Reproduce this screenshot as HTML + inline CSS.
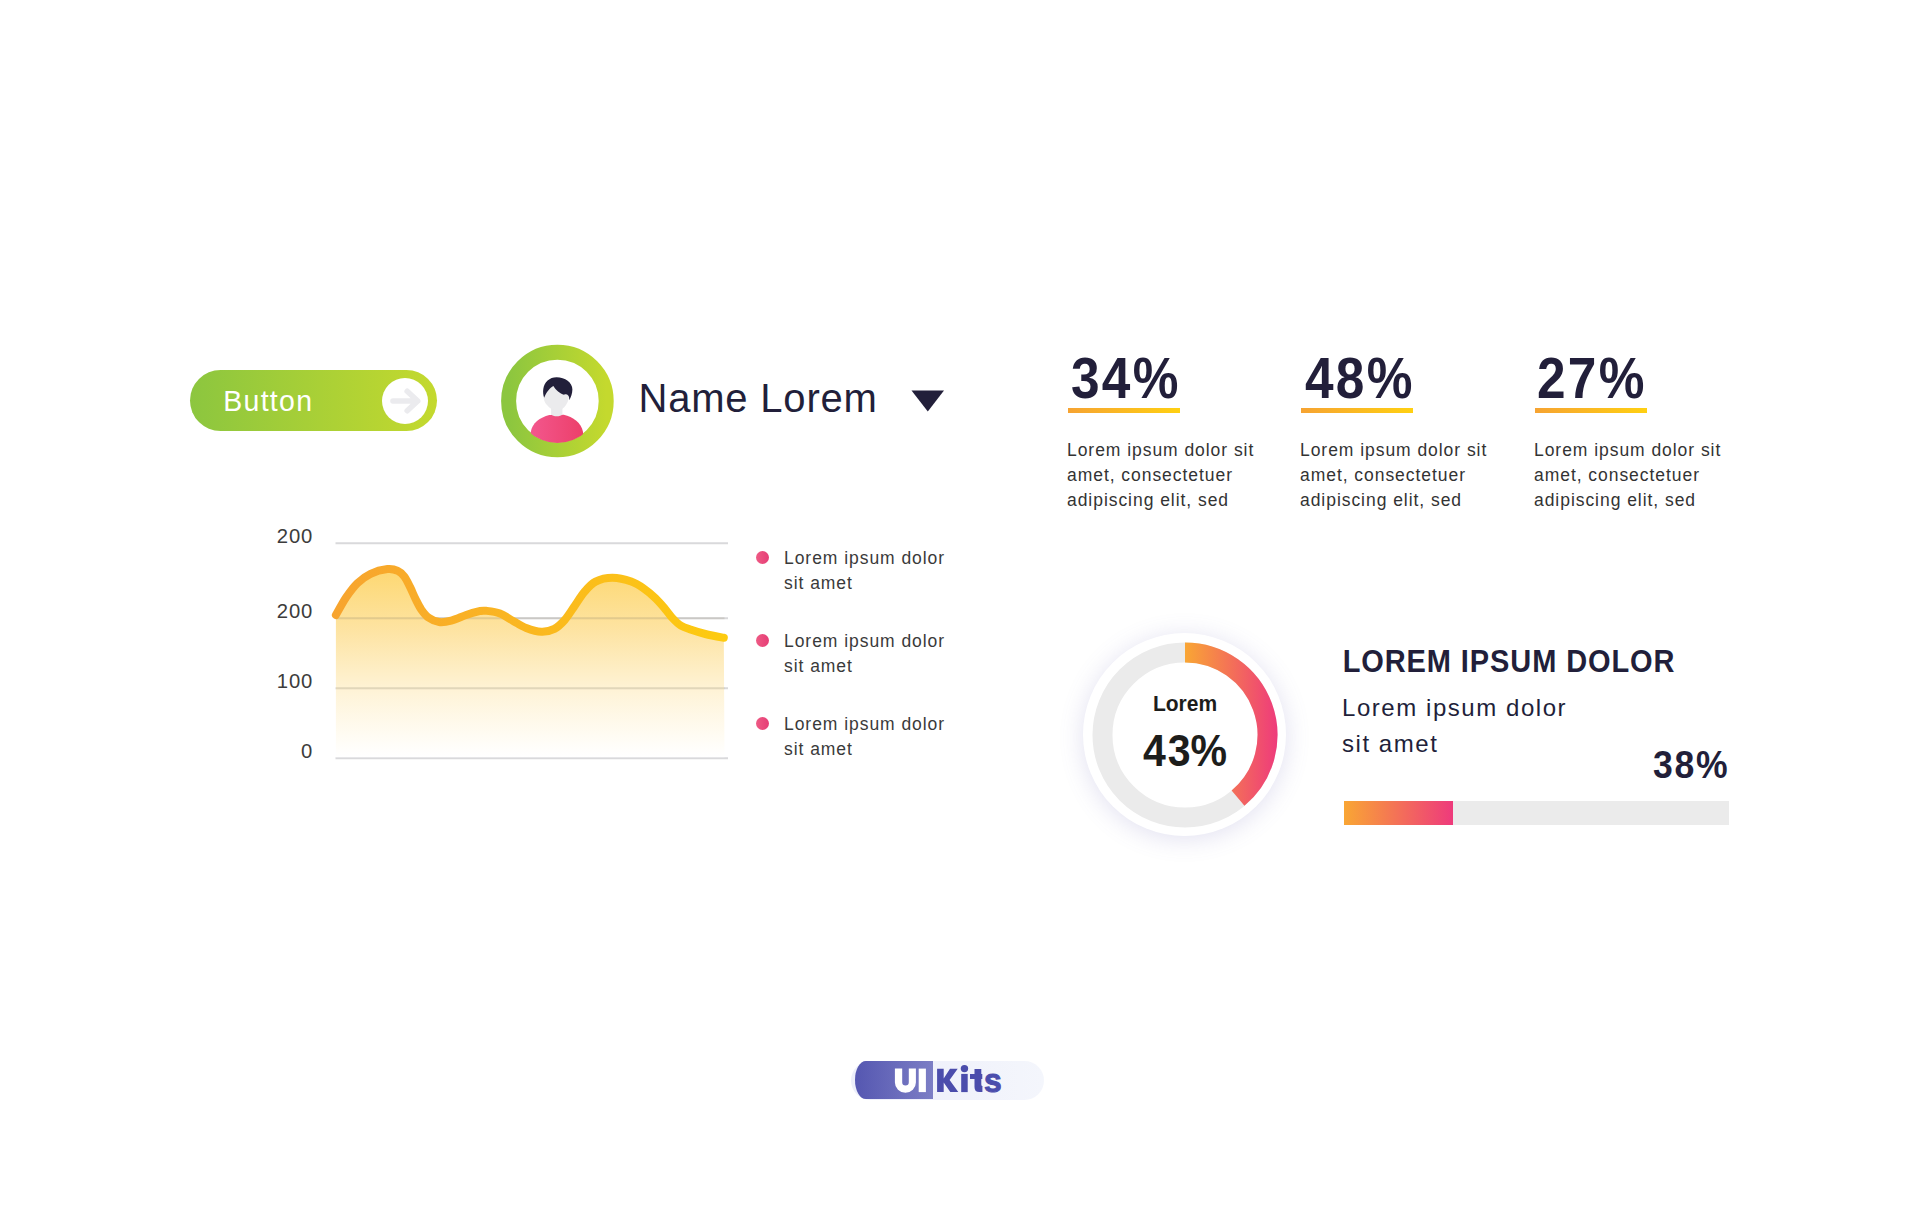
<!DOCTYPE html>
<html><head><meta charset="utf-8">
<style>
html,body{margin:0;padding:0;background:#fff;}
body{width:1920px;height:1209px;position:relative;overflow:hidden;font-family:"Liberation Sans",sans-serif;}
.abs{position:absolute;white-space:nowrap;}
#btn{left:190px;top:370px;width:247px;height:61px;border-radius:31px;background:linear-gradient(90deg,#8cc63f 0%,#c4d92e 100%);}
#btntxt{left:223.2px;top:385.3px;font-size:28.5px;line-height:32px;color:#fff;letter-spacing:1.3px;transform:scale(1,1.05);transform-origin:0 25.9px;}
#btncirc{left:382px;top:378px;width:46px;height:46px;border-radius:50%;background:#fff;}
#name{left:638.5px;top:375px;font-size:40px;line-height:46px;color:#221f3a;letter-spacing:0.8px;}
.pct{font-weight:bold;font-size:55px;line-height:60px;color:#221f3a;letter-spacing:2.4px;transform:scale(0.935,1.03);transform-origin:0 50px;}
.ul{height:5.5px;width:112.5px;background:linear-gradient(90deg,#f6a332,#ffd012);}
.desc{font-size:17.5px;line-height:25px;color:#333;letter-spacing:0.95px;white-space:normal;width:225px;}
.ylab{font-size:20.3px;line-height:24px;color:#3c3c3c;text-align:right;width:60px;left:253.3px;letter-spacing:0.9px;}
.leg{font-size:17.5px;line-height:25px;color:#3a3a3a;letter-spacing:0.95px;left:784px;}
.dot{width:13px;height:13px;border-radius:50%;background:linear-gradient(90deg,#ee5a84,#e63e76);left:756px;}
#ttl{left:1342.7px;top:644.5px;font-size:29px;line-height:34px;font-weight:bold;color:#221f3a;letter-spacing:0.9px;transform:scale(1,1.055);transform-origin:0 27.2px;}
#sub{left:1342px;top:689.6px;font-size:24px;line-height:36.7px;color:#221f3a;letter-spacing:1.55px;}
#p38{left:1653.4px;top:744px;font-size:38px;line-height:42px;font-weight:bold;color:#221f3a;letter-spacing:1.8px;transform:scale(0.937,1.045);transform-origin:0 34.2px;}
#track{left:1344px;top:801px;width:385px;height:24px;background:#ebebeb;}
#fill{left:1344px;top:801px;width:109px;height:24px;background:linear-gradient(90deg,#f9a634,#ee3a7c);}
#dlorem{left:1085px;width:200px;text-align:center;top:692px;font-size:21px;line-height:24px;font-weight:bold;color:#1d1d1b;letter-spacing:0px;transform:scale(1,1.06);transform-origin:50% 19.5px;}
#d43{left:1084.8px;width:200px;text-align:center;top:726.6px;font-size:43px;line-height:48px;font-weight:bold;color:#1d1d1b;transform:scale(0.955,1.05);transform-origin:50% 38.5px;}
</style></head><body>

<!-- Button -->
<div class="abs" id="btn"></div>
<div class="abs" id="btntxt">Button</div>
<div class="abs" id="btncirc"></div>
<svg class="abs" style="left:382px;top:378px" width="46" height="46" viewBox="0 0 46 46">
 <path d="M11 23 H35 M25.2 13.3 L35.7 23 L25.2 32.7" fill="none" stroke="#ebebee" stroke-width="5.6" stroke-linecap="round" stroke-linejoin="round"/>
</svg>

<!-- Avatar -->
<svg class="abs" style="left:497px;top:341px" width="120" height="120" viewBox="0 0 120 120">
 <defs>
  <linearGradient id="gg" x1="0" y1="0" x2="1" y2="0"><stop offset="0" stop-color="#8cc63f"/><stop offset="1" stop-color="#c4d92e"/></linearGradient>
  <linearGradient id="pk" x1="0" y1="0" x2="1" y2="0"><stop offset="0" stop-color="#f3578d"/><stop offset="1" stop-color="#ec3f6a"/></linearGradient>
  <clipPath id="cp"><circle cx="60.4" cy="60" r="42"/></clipPath>
 </defs>
 <circle cx="60.4" cy="60" r="48.8" fill="none" stroke="url(#gg)" stroke-width="15"/>
 <g clip-path="url(#cp)">
  <path d="M33.6 110 L33.8 91 C35 82 43 76.5 52.3 74 L66.7 73.7 C76 76 84.5 81.5 86 91 L86.2 110 Z" fill="url(#pk)"/>
  <path d="M54.1 64 L54.1 73.3 C56 76 63.5 76 65.4 73.3 L65.4 64 Z" fill="#e9eaec"/>
  <path d="M46.2 52 C46 58 48 62 50 64 C52.5 67.5 56 69.5 59.7 69.5 C63.5 69.5 67 67.5 69 64 C71 61 72 58 71.8 52 L60 42 Z" fill="#ebebed"/>
  <path d="M47.2 56.8 C46.3 54 45.8 51 46.3 48 C47.2 41 52.5 36.2 59.6 36.2 C68 36.2 75.5 41.5 75.4 48.5 C75.3 52.5 74 56 72.3 59.2 C72.3 57 72 55.5 71.2 54.6 C70.2 53.2 68.8 53 67 53.7 C63 52.5 58.8 49 56.4 45 C53 46.8 49.3 51 47.2 56.8 Z" fill="#221f3a"/>
 </g>
</svg>
<div class="abs" id="name">Name Lorem</div>
<svg class="abs" style="left:911px;top:390px" width="34" height="22" viewBox="0 0 34 22"><path d="M0.5 0.5 L33 0.5 L16.8 21.5 Z" fill="#221f3a"/></svg>

<!-- Stats -->
<div class="abs pct" style="left:1071.3px;top:349px">34%</div>
<div class="abs ul" style="left:1067.5px;top:407.5px"></div>
<div class="abs desc" style="left:1067px;top:437.8px">Lorem ipsum dolor sit amet, consectetuer adipiscing elit, sed</div>
<div class="abs pct" style="left:1304.7px;top:349px">48%</div>
<div class="abs ul" style="left:1300.5px;top:407.5px"></div>
<div class="abs desc" style="left:1300px;top:437.8px">Lorem ipsum dolor sit amet, consectetuer adipiscing elit, sed</div>
<div class="abs pct" style="left:1537px;top:349px">27%</div>
<div class="abs ul" style="left:1534.5px;top:407.5px"></div>
<div class="abs desc" style="left:1534px;top:437.8px">Lorem ipsum dolor sit amet, consectetuer adipiscing elit, sed</div>

<!-- Chart -->
<svg class="abs" style="left:320px;top:530px" width="420" height="240" viewBox="320 530 420 240">
 <defs>
  <linearGradient id="af" gradientUnits="userSpaceOnUse" x1="0" y1="569" x2="0" y2="757"><stop offset="0" stop-color="#fdd361"/><stop offset="0.33" stop-color="#fddf93" stop-opacity="0.95"/><stop offset="0.66" stop-color="#fef1cf" stop-opacity="0.9"/><stop offset="0.9" stop-color="#fffbf0" stop-opacity="0.8"/><stop offset="1" stop-color="#fff" stop-opacity="0.6"/></linearGradient>
  <linearGradient id="ls" gradientUnits="userSpaceOnUse" x1="335" y1="0" x2="726" y2="0"><stop offset="0" stop-color="#f7a42f"/><stop offset="1" stop-color="#fdcb10"/></linearGradient>
 </defs>
 <g stroke="#d9d9db" stroke-width="2">
  <line x1="335.5" y1="543.2" x2="728" y2="543.2"/><line x1="335.5" y1="618.2" x2="728" y2="618.2"/><line x1="335.5" y1="688.2" x2="728" y2="688.2"/><line x1="335.5" y1="758.2" x2="728" y2="758.2"/>
 </g>
 <path d="M335.9 615.0 C337.6 612.0 342.6 602.5 346.2 597.2 C349.9 591.9 353.4 587.0 357.5 583.1 C361.6 579.2 365.6 576.1 370.6 573.8 C375.6 571.4 383.0 569.6 387.5 569.1 C392.0 568.6 395.0 569.6 397.8 570.9 C400.6 572.1 402.4 573.9 404.4 576.6 C406.4 579.3 408.1 583.1 410.0 586.9 C411.9 590.6 413.7 595.4 415.6 599.1 C417.5 602.9 419.1 606.3 421.2 609.4 C423.4 612.5 425.8 615.7 428.8 617.8 C431.7 619.9 435.4 621.5 439.1 622.0 C442.9 622.5 446.7 621.8 451.2 620.6 C455.8 619.4 461.6 616.6 466.2 615.0 C470.9 613.4 476.1 612.0 479.4 611.2 C482.7 610.5 482.6 610.4 486.0 610.8 C489.4 611.2 495.5 611.8 500.0 613.5 C504.5 615.2 508.7 618.5 513.1 620.9 C517.5 623.3 521.6 626.2 526.2 628.0 C530.9 629.8 536.6 631.6 541.2 631.7 C545.9 631.9 550.5 630.9 554.4 628.9 C558.3 626.9 561.4 623.7 564.7 620.0 C568.0 616.3 570.7 611.6 574.0 606.9 C577.3 602.2 580.8 596.1 584.4 591.9 C588.0 587.7 590.9 584.0 595.6 581.6 C600.3 579.2 606.6 577.8 612.5 577.8 C618.4 577.8 625.9 579.7 631.2 581.6 C636.6 583.5 640.3 586.2 644.4 589.0 C648.5 591.8 652.2 595.1 655.6 598.4 C659.0 601.7 662.2 605.5 665.0 608.8 C667.8 612.0 669.9 615.3 672.5 618.1 C675.1 620.9 677.8 623.7 680.9 625.6 C684.0 627.5 687.2 628.4 691.2 629.8 C695.3 631.2 699.9 632.7 705.3 634.0 C710.7 635.3 720.7 637.2 723.8 637.8 L724.5 757.2 L335.9 757.2 Z" fill="url(#af)" opacity="0.9"/>
 <g stroke="rgba(150,140,120,0.22)" stroke-width="2">
  <line x1="336" y1="618.2" x2="724.5" y2="618.2"/><line x1="336" y1="688.2" x2="724.5" y2="688.2"/>
 </g>
 <path d="M335.9 615.0 C337.6 612.0 342.6 602.5 346.2 597.2 C349.9 591.9 353.4 587.0 357.5 583.1 C361.6 579.2 365.6 576.1 370.6 573.8 C375.6 571.4 383.0 569.6 387.5 569.1 C392.0 568.6 395.0 569.6 397.8 570.9 C400.6 572.1 402.4 573.9 404.4 576.6 C406.4 579.3 408.1 583.1 410.0 586.9 C411.9 590.6 413.7 595.4 415.6 599.1 C417.5 602.9 419.1 606.3 421.2 609.4 C423.4 612.5 425.8 615.7 428.8 617.8 C431.7 619.9 435.4 621.5 439.1 622.0 C442.9 622.5 446.7 621.8 451.2 620.6 C455.8 619.4 461.6 616.6 466.2 615.0 C470.9 613.4 476.1 612.0 479.4 611.2 C482.7 610.5 482.6 610.4 486.0 610.8 C489.4 611.2 495.5 611.8 500.0 613.5 C504.5 615.2 508.7 618.5 513.1 620.9 C517.5 623.3 521.6 626.2 526.2 628.0 C530.9 629.8 536.6 631.6 541.2 631.7 C545.9 631.9 550.5 630.9 554.4 628.9 C558.3 626.9 561.4 623.7 564.7 620.0 C568.0 616.3 570.7 611.6 574.0 606.9 C577.3 602.2 580.8 596.1 584.4 591.9 C588.0 587.7 590.9 584.0 595.6 581.6 C600.3 579.2 606.6 577.8 612.5 577.8 C618.4 577.8 625.9 579.7 631.2 581.6 C636.6 583.5 640.3 586.2 644.4 589.0 C648.5 591.8 652.2 595.1 655.6 598.4 C659.0 601.7 662.2 605.5 665.0 608.8 C667.8 612.0 669.9 615.3 672.5 618.1 C675.1 620.9 677.8 623.7 680.9 625.6 C684.0 627.5 687.2 628.4 691.2 629.8 C695.3 631.2 699.9 632.7 705.3 634.0 C710.7 635.3 720.7 637.2 723.8 637.8" fill="none" stroke="url(#ls)" stroke-width="8" stroke-linecap="round" stroke-linejoin="round"/>
</svg>
<div class="abs ylab" style="top:523.5px">200</div>
<div class="abs ylab" style="top:598.7px">200</div>
<div class="abs ylab" style="top:668.7px">100</div>
<div class="abs ylab" style="top:738.7px">0</div>

<div class="abs dot" style="top:551px"></div>
<div class="abs leg" style="top:545.5px">Lorem ipsum dolor<br>sit amet</div>
<div class="abs dot" style="top:634px"></div>
<div class="abs leg" style="top:628.5px">Lorem ipsum dolor<br>sit amet</div>
<div class="abs dot" style="top:717px"></div>
<div class="abs leg" style="top:711.5px">Lorem ipsum dolor<br>sit amet</div>

<!-- Donut -->
<div class="abs" style="left:1083.2px;top:633.2px;width:203px;height:203px;border-radius:50%;background:#fff;box-shadow:0 3px 24px rgba(105,100,180,0.2);"></div>
<svg class="abs" style="left:1084.7px;top:634.7px" width="200" height="200" viewBox="-100 -100 200 200">
 <defs><linearGradient id="dg" gradientUnits="userSpaceOnUse" x1="0" y1="0" x2="93" y2="0"><stop offset="0" stop-color="#f9a634"/><stop offset="1" stop-color="#ee3a7c"/></linearGradient></defs>
 <circle cx="0" cy="0" r="82.5" fill="none" stroke="#ebebeb" stroke-width="20"/>
 <path d="M0 -82.5 A82.5 82.5 0 0 1 53.03 63.2" fill="none" stroke="url(#dg)" stroke-width="20"/>
</svg>
<div class="abs" id="dlorem">Lorem</div>
<div class="abs" id="d43"><span style="margin-right:2px">4</span>3%</div>

<div class="abs" id="ttl">LOREM IPSUM DOLOR</div>
<div class="abs" id="sub">Lorem ipsum dolor<br>sit amet</div>
<div class="abs" id="p38">38%</div>
<div class="abs" id="track"></div>
<div class="abs" id="fill"></div>

<!-- Logo -->
<div class="abs" style="left:850.5px;top:1060.5px;width:193.3px;height:39.3px;border-radius:19.65px;background:linear-gradient(90deg,#eceefa,#f4f6fc);"></div>
<div class="abs" style="left:854.8px;top:1060.8px;width:78px;height:38.6px;border-radius:11px 0 0 11px / 19.3px 0 0 19.3px;background:linear-gradient(90deg,#5557b1,#7c7ec5);"></div>
<svg class="abs" style="left:880px;top:1055px" width="140" height="50" viewBox="880 1055 140 50">
 <g fill="#fff">
  <path d="M894.9 1068.6 H902.2 V1082.3 a3.3 3.3 0 0 0 6.6 0 V1068.6 H915.9 V1082.4 a10.5 10.4 0 0 1 -21 0 Z"/>
  <rect x="918.7" y="1068.6" width="7.2" height="23.5"/>
 </g>
 <g fill="#4b4dac">
  <path d="M937.1 1068.8 H943.7 V1078.4 L950 1068.8 H957.7 L949.6 1080.1 L958.3 1092.1 H950.3 L943.7 1082.4 V1092.1 H937.1 Z"/>
  <rect x="961.2" y="1073.9" width="6.5" height="18.2"/>
  <circle cx="964.45" cy="1068.6" r="3.7"/>
  <path d="M974.5 1069 H981.3 V1073.9 H982.3 V1079 H981.3 V1084.6 q0 1.9 1.9 1.9 H982.4 V1092.1 H979.4 q-4.9 0 -4.9 -5.2 V1079 H970 V1073.9 H974.5 Z"/>
  <text x="984.1" y="1092.2" font-family="Liberation Sans, sans-serif" font-weight="bold" font-size="32.6" stroke="#4b4dac" stroke-width="1.0" textLength="17.7" lengthAdjust="spacingAndGlyphs">s</text>
 </g>
</svg>
</body></html>
